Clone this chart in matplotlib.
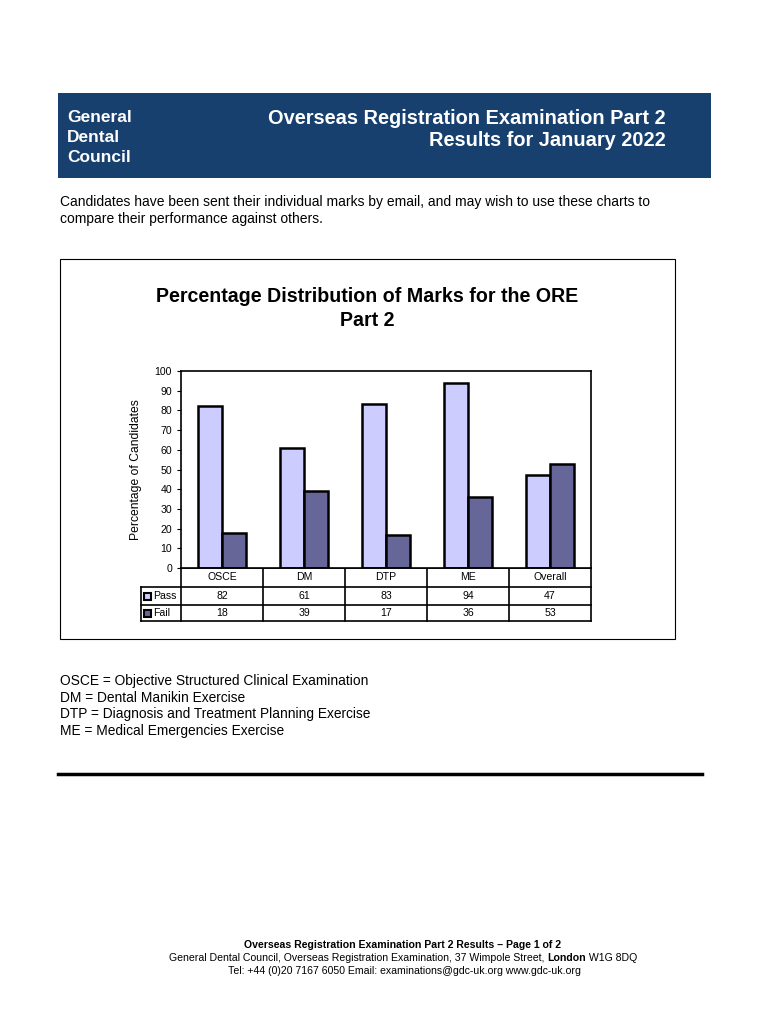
import matplotlib.pyplot as plt
import numpy as np

plt.rcParams['font.family'] = ['Liberation Sans', 'DejaVu Sans']

# data
categories = ["OSCE", "DM", "DTP", "ME", "Overall"]
pass_pct = [82, 61, 83, 94, 47]
fail_pct = [18, 39, 17, 36, 53]
series_names = ["Pass", "Fail"]
yticks = list(range(0, 101, 10))

abbrev = ["OSCE = Objective Structured Clinical Examination",
          "DM = Dental Manikin Exercise",
          "DTP = Diagnosis and Treatment Planning Exercise",
          "ME = Medical Emergencies Exercise"]

pass_col = "#ccccff"
fail_col = "#666699"

W, H = 768, 1024
fig = plt.figure(figsize=(W / 100, H / 100), dpi=100, facecolor="white")


def box(x0, y0, x1, y1):
    # pixel box (top-left origin) -> figure fraction
    return [x0 / W, 1 - y1 / H, (x1 - x0) / W, (y1 - y0) / H]


# page overlay in pixel coords
page = fig.add_axes([0, 0, 1, 1])
page.set_xlim(0, W)
page.set_ylim(H, 0)
page.axis("off")

# header banner
page.add_patch(plt.Rectangle((58, 93), 653, 85, facecolor="#17406f", edgecolor="none"))
for i, t in enumerate(["General", "Dental", "Council"]):
    page.text(67, 117 + i * 20.5, t, color="white", fontsize=12.5, fontweight="bold", va="center")
page.text(666, 118, "Overseas Registration Examination Part 2", color="white",
          fontsize=14.4, fontweight="bold", ha="right", va="center")
page.text(666, 140, "Results for January 2022", color="white",
          fontsize=14.4, fontweight="bold", ha="right", va="center")

page.text(60, 202, "Candidates have been sent their individual marks by email, and may wish to use these charts to",
          fontsize=10, va="center")
page.text(60, 219, "compare their performance against others.", fontsize=10, va="center")

# chart frame
page.add_patch(plt.Rectangle((60, 259), 615, 380, facecolor="none", edgecolor="black", lw=0.8))
page.text(367, 296, "Percentage Distribution of Marks for the ORE", fontsize=14.1, fontweight="bold",
          ha="center", va="center")
page.text(367, 321, "Part 2", fontsize=14.1, fontweight="bold", ha="center", va="center")

# bar plot
ax = fig.add_axes(box(181, 371, 591, 568))
x = np.arange(len(categories))
bw = 0.295
ax.bar(x + 0.5 - bw / 2, pass_pct, bw, color=pass_col, edgecolor="black", lw=1.8)
ax.bar(x + 0.5 + bw / 2, fail_pct, bw, color=fail_col, edgecolor="black", lw=1.8)
ax.set_xlim(0, len(categories))
ax.set_ylim(0, 100)
ax.set_yticks(yticks)
ax.set_xticks([])
ax.tick_params(axis="y", labelsize=7.6, length=3, width=0.8)
for s in ax.spines.values():
    s.set_linewidth(1.2)
ax.set_ylabel("Percentage of Candidates", fontsize=8.7, labelpad=9)

# data table under the plot
x0, x1 = 181, 591
cw = (x1 - x0) / len(categories)
rows = [568, 587, 605, 621]
lw = 1.2
page.plot([x0, x1], [rows[0], rows[0]], color="black", lw=lw)
for r in rows[1:]:
    page.plot([141, x1], [r, r], color="black", lw=lw)
page.plot([141, 141], [rows[1], rows[3]], color="black", lw=lw)
for i in range(len(categories) + 1):
    page.plot([x0 + i * cw] * 2, [rows[0], rows[3]], color="black", lw=lw)
for i, c in enumerate(categories):
    cx = x0 + (i + 0.5) * cw
    page.text(cx, (rows[0] + rows[1]) / 2, c, fontsize=7.6, ha="center", va="center")
    page.text(cx, (rows[1] + rows[2]) / 2, str(pass_pct[i]), fontsize=7.6, ha="center", va="center")
    page.text(cx, (rows[2] + rows[3]) / 2, str(fail_pct[i]), fontsize=7.6, ha="center", va="center")
for j, (name, col) in enumerate(zip(series_names, [pass_col, fail_col])):
    cy = (rows[j + 1] + rows[j + 2]) / 2
    page.add_patch(plt.Rectangle((144, cy - 3.5), 7, 7, facecolor=col, edgecolor="black", lw=1.5))
    page.text(153, cy, name, fontsize=7.6, va="center")

# abbreviations
for i, t in enumerate(abbrev):
    page.text(60, 681 + i * 16.5, t, fontsize=9.9, va="center")

page.plot([58, 702], [774, 774], color="black", lw=2.5)

# footer
fs = 7.6
page.text(403, 945, "Overseas Registration Examination Part 2 Results \u2013 Page 1 of 2",
          fontsize=fs, fontweight="bold", ha="center", va="center")
parts = [("General Dental Council, Overseas Registration Examination, 37 Wimpole Street, ", "normal"),
         ("London", "bold"), (" W1G 8DQ", "normal")]
fig.canvas.draw()
r = fig.canvas.get_renderer()
objs = [page.text(0, 958, t, fontsize=fs, fontweight=w, va="center") for t, w in parts]
widths = [o.get_window_extent(r).width for o in objs]
cur = 403 - sum(widths) / 2
for o, w in zip(objs, widths):
    o.set_x(cur)
    cur += w
page.text(404, 971, "Tel: +44 (0)20 7167 6050 Email: examinations@gdc-uk.org www.gdc-uk.org",
          fontsize=fs, ha="center", va="center")

fig.savefig("out.png", dpi=100)
